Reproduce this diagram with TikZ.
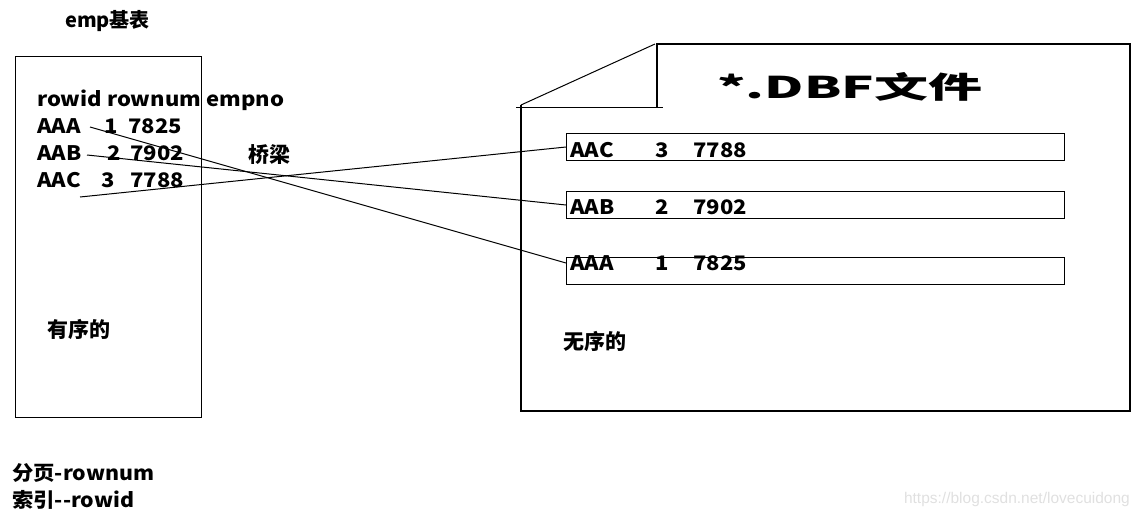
\documentclass[tikz,border=0pt]{standalone}
\usepackage{fontspec}
\setmainfont{Noto Sans CJK SC}
\newfontfamily\wmfont{Liberation Sans}
\begin{document}
\begin{tikzpicture}[x=1pt,y={(0,-1pt)},
  txt/.style={inner sep=0pt,anchor=base west,xscale=1.1,font=\fontsize{20}{22}\selectfont\bfseries},
  cjk/.style={inner sep=0pt,anchor=base west,font=\fontsize{21}{23}\selectfont\bfseries},
  thin/.style={line width=1pt},
  thick3/.style={line width=2.6pt},
  rec/.style={draw,line width=1pt,minimum width=498pt,minimum height=27pt,inner sep=0pt,anchor=north west}]
\useasboundingbox (0,0) rectangle (1141,517);
% left table
\node[draw,thin,minimum width=186pt,minimum height=361pt,anchor=north west,inner sep=0pt] (lt) at (15,56) {};
\node[cjk,font=\fontsize{20}{22}\selectfont\bfseries] (ttl) at (65,27) {emp基表};
\node[txt] (hdr) at (37,106) {rowid rownum empno};
\node[txt] (la1) at (37,133) {AAA};
\node[txt] (ln1) at (104,133) {1};
\node[txt] (le1) at (128,133) {7825};
\node[txt] (la2) at (37,160) {AAB};
\node[txt] (ln2) at (107,160) {2};
\node[txt] (le2) at (130,160) {7902};
\node[txt] (la3) at (37,187) {AAC};
\node[txt] (ln3) at (101,187) {3};
\node[txt] (le3) at (130,187) {7788};
\node[cjk] (ord) at (47,337) {有序的};
\node[cjk] (br) at (248,162) {桥梁};
\node[txt,xscale=0.97] (p1) at (12,480) {分页-rownum};
\node[txt,xscale=0.97] (p2) at (12,507) {索引-{}-rowid};
% right file shape
\draw[thick3] (521,105) -- (521,411) -- (1130,411) -- (1130,44) -- (657,44) -- (657,107);
\draw[thin] (516,107) -- (663,107);
\draw[thin] (521,105) -- (655,44);
\node[inner sep=0pt,anchor=base west,font=\fontsize{30}{33}\selectfont\bfseries,xscale=1.8] (dbf) at (717,98) {*.DBF文件};
\node[rec] (r1) at (566,133) {};
\node[rec] (r2) at (566,191) {};
\node[rec] (r3) at (566,257) {};
\node[txt] (ra1) at (570,157) {AAC};
\node[txt] (rn1) at (655,157) {3};
\node[txt] (re1) at (693,157) {7788};
\node[txt] (ra2) at (570,214) {AAB};
\node[txt] (rn2) at (655,214) {2};
\node[txt] (re2) at (693,214) {7902};
\node[txt] (ra3) at (570,270) {AAA};
\node[txt] (rn3) at (655,270) {1};
\node[txt] (re3) at (693,270) {7825};
\node[cjk] (unord) at (563,349) {无序的};
\node[inner sep=0pt,anchor=base east,font=\wmfont\fontsize{15.5}{17}\selectfont,text=black!12] (wm) at (1130,503) {https://blog.csdn.net/lovecuidong};
% connectors
\coordinate (s1) at (90,127);
\coordinate (s2) at (87,155);
\coordinate (s3) at (80,197);
\coordinate (t3) at (566,263);
\draw[thin] (s1) -- (t3);
\draw[thin] (s2) -- (r2.west);
\draw[thin] (s3) -- (r1.west);
\end{tikzpicture}
\end{document}
